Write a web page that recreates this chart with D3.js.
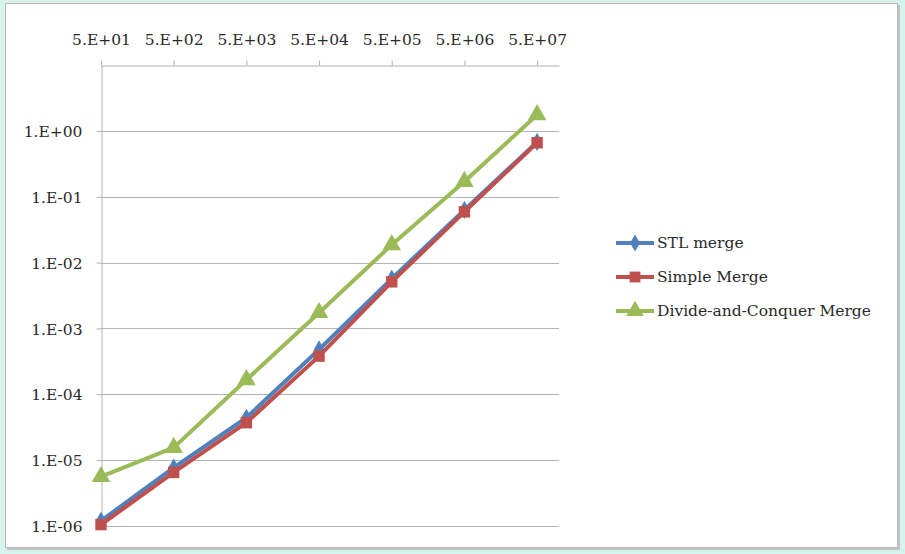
<!DOCTYPE html>
<html>
<head>
<meta charset="utf-8">
<script src="https://cdn.jsdelivr.net/npm/d3@7"></script>
<style>
  body { margin: 0; background: #d6f3ed; }
  svg { display: block; }
</style>
</head>
<body>
<div id="chart"></div>
<script>
// sizes (x values) and timings per series
const sizes = [5e1, 5e2, 5e3, 5e4, 5e5, 5e6, 5e7];
const stlMerge = [1.2e-6, 7.7e-6, 4.4e-5, 4.8e-4, 5.7e-3, 0.063, 0.68];
const simpleMerge = [1.05e-6, 6.5e-6, 3.7e-5, 3.8e-4, 5.1e-3, 0.059, 0.66];
const dcMerge = [5.6e-6, 1.55e-5, 1.66e-4, 1.73e-3, 1.86e-2, 0.17, 1.75];
const seriesNames = ["STL merge", "Simple Merge", "Divide-and-Conquer Merge"];
const yTicks = [1e0, 1e-1, 1e-2, 1e-3, 1e-4, 1e-5, 1e-6];

const width = 905, height = 554;
const fontFam = "'DejaVu Serif', serif";

const svg = d3.select("#chart")
    .append("svg")
    .attr("width", width)
    .attr("height", height);

// panel with shadow
svg.append("rect")
    .attr("x", 7).attr("y", 5)
    .attr("width", 893).attr("height", 545)
    .attr("fill", "#c4c4c4");
svg.append("rect")
    .attr("x", 5.5).attr("y", 3.5)
    .attr("width", 892).attr("height", 544)
    .attr("fill", "#fff")
    .attr("stroke", "#b8b8b8");

const xScale = d3.scaleLog()
    .domain([50, 1e8])
    .range([101, 559]);

const yScale = d3.scaleLog()
    .domain([1e-6, 1e1])
    .range([526, 65]);

// gridlines
svg.append("g")
    .selectAll("line")
    .data(yTicks)
    .join("line")
    .attr("x1", 101)
    .attr("x2", 559)
    .attr("y1", d => Math.round(yScale(d)) + 0.5)
    .attr("y2", d => Math.round(yScale(d)) + 0.5)
    .attr("stroke", "#b5b5b5");

// top x-axis
const xAxis = svg.append("g")
    .attr("transform", "translate(0,65.5)")
    .call(d3.axisTop(xScale)
        .tickValues(sizes)
        .tickSize(5)
        .tickSizeOuter(0)
        .tickFormat(d => "5.E+" + d3.format("02d")(Math.round(Math.log10(d / 5)))));

// left y-axis
const yAxis = svg.append("g")
    .attr("transform", "translate(101.5,0)")
    .call(d3.axisLeft(yScale)
        .tickValues(yTicks)
        .tickSize(5)
        .tickSizeOuter(0)
        .tickFormat(d => {
            const e = Math.round(Math.log10(d));
            return "1.E" + (e < 0 ? "-" : "+") + d3.format("02d")(Math.abs(e));
        }));

[xAxis, yAxis].forEach(ax => {
    ax.select(".domain").attr("stroke", "#b0b0b0");
    ax.selectAll(".tick line").attr("stroke", "#b0b0b0");
    ax.selectAll(".tick text")
        .attr("fill", "#2a2a2a")
        .style("font-family", fontFam)
        .style("font-size", "15.5px");
});
xAxis.selectAll(".tick text").attr("dy", "0").attr("y", -21);
yAxis.selectAll(".tick text").attr("x", -19).attr("dy", "0.36em");

const colors = ["#4f81bd", "#c0504d", "#9bbb59"];
const symbols = [d3.symbolDiamond, d3.symbolSquare, d3.symbolTriangle];
const symSize = [95, 130, 150];
const allSeries = [stlMerge, simpleMerge, dcMerge];

const line = d3.line()
    .x(d => xScale(d[0]))
    .y(d => yScale(d[1]));

// draw green first so blue/red sit on top like the reference
[2, 0, 1].forEach(i => {
    const pts = sizes.map((s, j) => [s, allSeries[i][j]]);
    svg.append("path")
        .datum(pts)
        .attr("d", line)
        .attr("fill", "none")
        .attr("stroke", colors[i])
        .attr("stroke-width", 4)
        .attr("stroke-linejoin", "round");
    svg.append("g")
        .selectAll("path")
        .data(pts)
        .join("path")
        .attr("transform", d => `translate(${xScale(d[0])},${yScale(d[1])})`)
        .attr("d", d3.symbol(symbols[i], symSize[i]))
        .attr("fill", colors[i]);
});

// legend
const legend = svg.append("g");
seriesNames.forEach((name, i) => {
    const y = 243 + i * 34;
    legend.append("line")
        .attr("x1", 616).attr("x2", 654)
        .attr("y1", y).attr("y2", y)
        .attr("stroke", colors[i])
        .attr("stroke-width", 4);
    legend.append("path")
        .attr("transform", `translate(635,${y})`)
        .attr("d", d3.symbol(symbols[i], symSize[i] * 0.9))
        .attr("fill", colors[i]);
    legend.append("text")
        .attr("x", 657)
        .attr("y", y + 5)
        .attr("fill", "#2a2a2a")
        .style("font-family", fontFam)
        .style("font-size", "15.5px")
        .text(name);
});
</script>
</body>
</html>
